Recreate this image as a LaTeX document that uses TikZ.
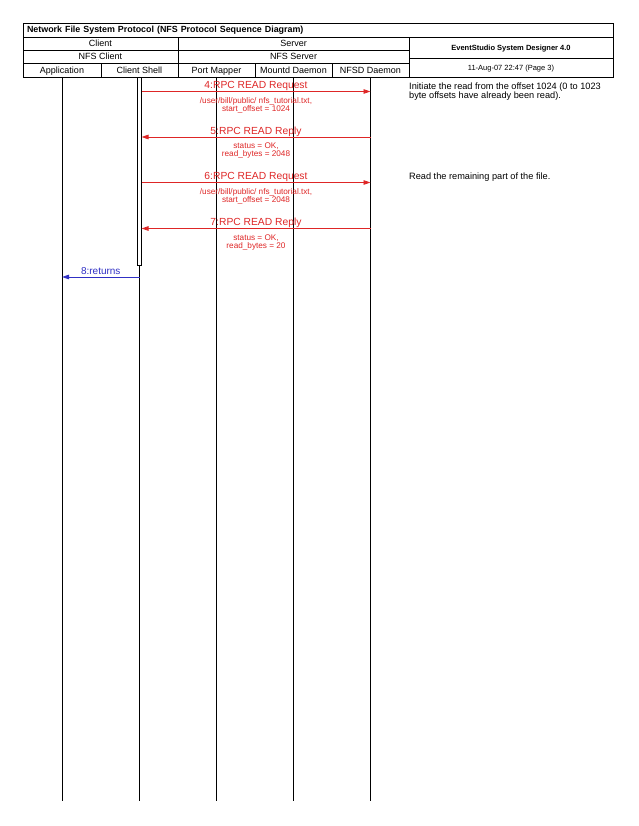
\documentclass[tikz,border=0pt]{standalone}
\usepackage{fontspec}
\setmainfont{Liberation Sans}
\usetikzlibrary{arrows.meta, positioning}

\definecolor{msgred}{RGB}{222,38,38}
\definecolor{retblue}{RGB}{48,48,196}

\begin{document}
\begin{tikzpicture}[x=1pt, y=-1pt,
                cell/.style={draw, line width=0.8pt, inner sep=0pt, outer sep=0pt, text height=6pt, text depth=0pt,
                             minimum height=13.33pt, font=\fontsize{9}{10}\selectfont},
                lifeline/.style={line width=0.9pt},
                req/.style={-{Triangle[length=7pt, width=4.5pt]}, line width=0.8pt, msgred},
                ret/.style={-{Triangle[length=7pt, width=4.5pt]}, line width=0.8pt, retblue},
                msglabel/.style={font=\fontsize{10.3}{11}\selectfont, text=msgred, inner sep=0pt,
                                 text height=7.3pt, text depth=0pt},
                retlabel/.style={font=\fontsize{10}{11}\selectfont, text=retblue, inner sep=0pt,
                                 text height=7.2pt, text depth=0pt},
                params/.style={font=\fontsize{8.2}{8.3}\selectfont, text=msgred, align=center, inner sep=0pt},
                remark/.style={font=\fontsize{9.2}{9.7}\selectfont, align=left, anchor=base west, inner sep=0pt}]

                \useasboundingbox (0,0) rectangle (638,826);

                % Header - title row
                \node[cell, anchor=north west, minimum height=14pt, inner xsep=4pt, text width=582pt,
                      align=left, font=\fontsize{8.9}{10}\selectfont\bfseries] (title) at (23,23)
                      {Network File System Protocol (NFS Protocol Sequence Diagram)};

                % Header - groups
                \node[cell, anchor=north west, minimum width=155pt] (client) at (title.south west) {Client};
                \node[cell, right=0pt of client, minimum width=231pt] (server) {Server};
                \node[cell, anchor=north west, minimum width=155pt] (nfsclient) at (client.south west) {NFS Client};
                \node[cell, right=0pt of nfsclient, minimum width=231pt] (nfsserver) {NFS Server};

                % Header - instances
                \node[cell, anchor=north west, minimum width=78pt] (app) at (nfsclient.south west) {Application};
                \node[cell, right=0pt of app, minimum width=77pt] (shell) {Client Shell};
                \node[cell, right=0pt of shell, minimum width=77pt] (portmap) {Port Mapper};
                \node[cell, right=0pt of portmap, minimum width=77pt] (mountd) {Mountd Daemon};
                \node[cell, right=0pt of mountd, minimum width=77pt] (nfsd) {NFSD Daemon};

                % Header - tool block on the right
                \node[cell, anchor=north west, minimum width=204pt, minimum height=21pt, text height=5.2pt,
                      font=\fontsize{7.5}{8}\selectfont\bfseries] (tool) at (server.north east)
                      {EventStudio System Designer 4.0};
                \node[cell, below=0pt of tool, minimum width=204pt, minimum height=19pt, text height=5.2pt,
                      font=\fontsize{7.5}{8}\selectfont] (stamp) {11-Aug-07 22:47 (Page 3)};

                % Lifelines
                \coordinate (lifeend) at (0,801);
                \foreach \inst in {app, shell, portmap, mountd, nfsd}
                    \draw[lifeline] (\inst.south) -- (\inst.south |- lifeend);

                % Activation bar of the client shell
                \node[draw, fill=white, line width=0.8pt, inner sep=0pt, outer sep=0pt, anchor=north,
                      minimum width=4pt, minimum height=188pt] (shellbar) at (shell.south) {};

                % Message levels
                \coordinate (m4) at (0,91.5);
                \coordinate (m5) at (0,137);
                \coordinate (m6) at (0,182.5);
                \coordinate (m7) at (0,228.5);
                \coordinate (m8) at (0,277);

                % Read requests and replies (red)
                \draw[req] (shellbar.east |- m4) -- (nfsd.south |- m4)
                    node[midway, above=2.5pt, msglabel] (lbl4) {4:RPC READ Request}
                    node[midway, below=5.5pt, params] (par4) {/user/bill/public/ nfs\_tutorial.txt,\\start\_offset = 1024};
                \draw[req] (nfsd.south |- m5) -- (shellbar.east |- m5)
                    node[midway, above=2.5pt, msglabel] (lbl5) {5:RPC READ Reply}
                    node[midway, below=5.5pt, params] (par5) {status = OK,\\read\_bytes = 2048};
                \draw[req] (shellbar.east |- m6) -- (nfsd.south |- m6)
                    node[midway, above=2.5pt, msglabel] (lbl6) {6:RPC READ Request}
                    node[midway, below=5.5pt, params] (par6) {/user/bill/public/ nfs\_tutorial.txt,\\start\_offset = 2048};
                \draw[req] (nfsd.south |- m7) -- (shellbar.east |- m7)
                    node[midway, above=2.5pt, msglabel] (lbl7) {7:RPC READ Reply}
                    node[midway, below=5.5pt, params] (par7) {status = OK,\\read\_bytes = 20};

                % Return to the application (blue)
                \draw[ret] (shell.south |- m8) -- (app.south |- m8)
                    node[midway, above=2.5pt, retlabel] (lbl8) {8:returns};

                % Remarks
                \node[remark] (note4) at (409,99)
                    {Initiate the read from the offset 1024 (0 to 1023\\byte offsets have already been read).};
                \node[remark] (note6) at (409,180) {Read the remaining part of the file.};
\end{tikzpicture}
\end{document}
